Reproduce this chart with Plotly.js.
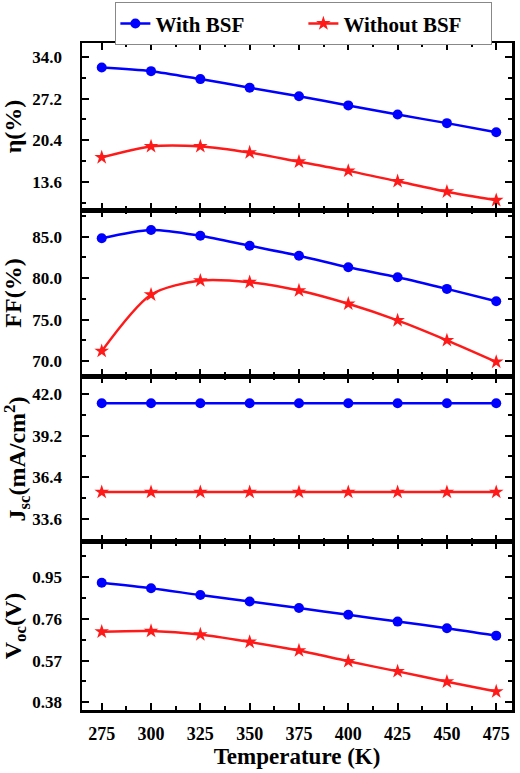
<!DOCTYPE html>
<html>
<head>
<meta charset="utf-8">
<script src="https://cdn.plot.ly/plotly-3.0.1.min.js"></script>
<style>html,body{margin:0;padding:0;background:#fff;}#chart{width:520px;height:773px;}</style>
</head>
<body>
<div id="chart"></div>
<script>
const temperature = [275, 300, 325, 350, 375, 400, 425, 450, 475];
const seriesNames = ["With BSF", "Without BSF"];
const etaWith = [32.3, 31.7, 30.4, 29.0, 27.6, 26.1, 24.6, 23.2, 21.7];
const etaWithout = [17.6, 19.4, 19.4, 18.4, 16.9, 15.4, 13.7, 12.0, 10.6];
const ffWith = [84.8, 85.8, 85.1, 83.9, 82.7, 81.3, 80.1, 78.7, 77.2];
const ffWithout = [71.2, 78.0, 79.7, 79.5, 78.5, 76.9, 74.9, 72.5, 69.9];
const jscWith = [41.37, 41.37, 41.37, 41.37, 41.37, 41.37, 41.37, 41.37, 41.37];
const jscWithout = [35.4, 35.4, 35.4, 35.4, 35.4, 35.4, 35.4, 35.4, 35.4];
const vocWith = [0.925, 0.900, 0.869, 0.840, 0.810, 0.779, 0.748, 0.718, 0.684];
const vocWithout = [0.702, 0.705, 0.689, 0.655, 0.616, 0.567, 0.521, 0.474, 0.429];

const BLUE = "#0000ff";
const RED = "#ff1a1a";
const FONT = "Liberation Serif, Times New Roman, serif";

function withTrace(y, xa, ya, show) {
  return {x: temperature, y: y, xaxis: xa, yaxis: ya, type: "scatter", mode: "lines+markers",
    name: seriesNames[0], legendgroup: "w", showlegend: show,
    line: {color: BLUE, width: 2.5, shape: "spline", smoothing: 0.8},
    marker: {symbol: "circle", size: 10, color: BLUE}};
}
function withoutTrace(y, xa, ya, show) {
  return {x: temperature, y: y, xaxis: xa, yaxis: ya, type: "scatter", mode: "lines+markers",
    name: seriesNames[1], legendgroup: "wo", showlegend: show,
    line: {color: RED, width: 2.5, shape: "spline", smoothing: 0.8},
    marker: {symbol: "star", size: 11, color: RED}};
}

const data = [
  withTrace(etaWith, "x4", "y4", true),
  withoutTrace(etaWithout, "x4", "y4", true),
  withTrace(ffWith, "x3", "y3", false),
  withoutTrace(ffWithout, "x3", "y3", false),
  withTrace(jscWith, "x2", "y2", false),
  withoutTrace(jscWithout, "x2", "y2", false),
  withTrace(vocWith, "x", "y", false),
  withoutTrace(vocWithout, "x", "y", false)
];

function xAxis(anchor, labels) {
  const a = {anchor: anchor, range: [265, 483], tickmode: "linear", tick0: 275, dtick: 25,
    ticks: "inside", ticklen: 7, tickwidth: 2, tickcolor: "#000",
    showline: true, linewidth: 2.5, linecolor: "#000", mirror: "ticks",
    showgrid: false, zeroline: false, showticklabels: labels,
    tickfont: {size: 18, family: FONT, weight: "bold", color: "#000"},
    ticklabelstandoff: 6,
    minor: {ticks: "inside", ticklen: 4, tickwidth: 2, tickcolor: "#000", dtick: 12.5, tick0: 275, showgrid: false}};
  if (anchor !== "y") a.matches = "x";
  if (labels) a.title = {text: "Temperature (K)", font: {size: 23, family: FONT, weight: "bold", color: "#000"}, standoff: 4};
  return a;
}
function yAxis(domain, range, tick0, dtick, fmt, title) {
  return {domain: domain, range: range, tickmode: "linear", tick0: tick0, dtick: dtick, tickformat: fmt,
    ticks: "inside", ticklen: 7, tickwidth: 2, tickcolor: "#000",
    showline: true, linewidth: 2.5, linecolor: "#000", mirror: "ticks",
    showgrid: false, zeroline: false,
    tickfont: {size: 17, family: FONT, weight: "bold", color: "#000"},
    ticklabelstandoff: 14,
    minor: {ticks: "inside", ticklen: 4, tickwidth: 2, tickcolor: "#000", dtick: dtick / 2, showgrid: false},
    title: {text: title, font: {size: 24, family: FONT, weight: "bold", color: "#000"}, standoff: 4}};
}

const layout = {
  width: 520, height: 773,
  margin: {l: 82, r: 8, t: 43, b: 63, autoexpand: false},
  paper_bgcolor: "#fff", plot_bgcolor: "#fff",
  font: {family: FONT, weight: "bold", color: "#000"},
  showlegend: true,
  legend: {orientation: "h", x: 0.516, xanchor: "center", y: 1.061, yanchor: "top",
    bordercolor: "#888", borderwidth: 1, bgcolor: "#fff",
    font: {size: 21, family: FONT, weight: "bold", color: "#000"}, tracegroupgap: 0,
    entrywidth: 143, entrywidthmode: "pixels"},
  xaxis: xAxis("y", true),
  xaxis2: xAxis("y2", false),
  xaxis3: xAxis("y3", false),
  xaxis4: xAxis("y4", false),
  yaxis: yAxis([0, 0.2519], [0.345, 1.111], 0.38, 0.19, ".2f", "V<sub>oc</sub>(V)"),
  yaxis2: yAxis([0.2519, 0.5007], [32.05, 43.2], 33.6, 2.8, ".1f", "J<sub>sc</sub>(mA/cm<sup>2</sup>)"),
  yaxis3: yAxis([0.5007, 0.7496], [68.2, 88.2], 70, 5, ".1f", "FF(%)"),
  yaxis4: yAxis([0.7496, 1], [9.0, 36.3], 13.6, 6.8, ".1f", "η(%)")
};

Plotly.newPlot("chart", data, layout, {displayModeBar: false, staticPlot: true});
</script>
</body>
</html>
